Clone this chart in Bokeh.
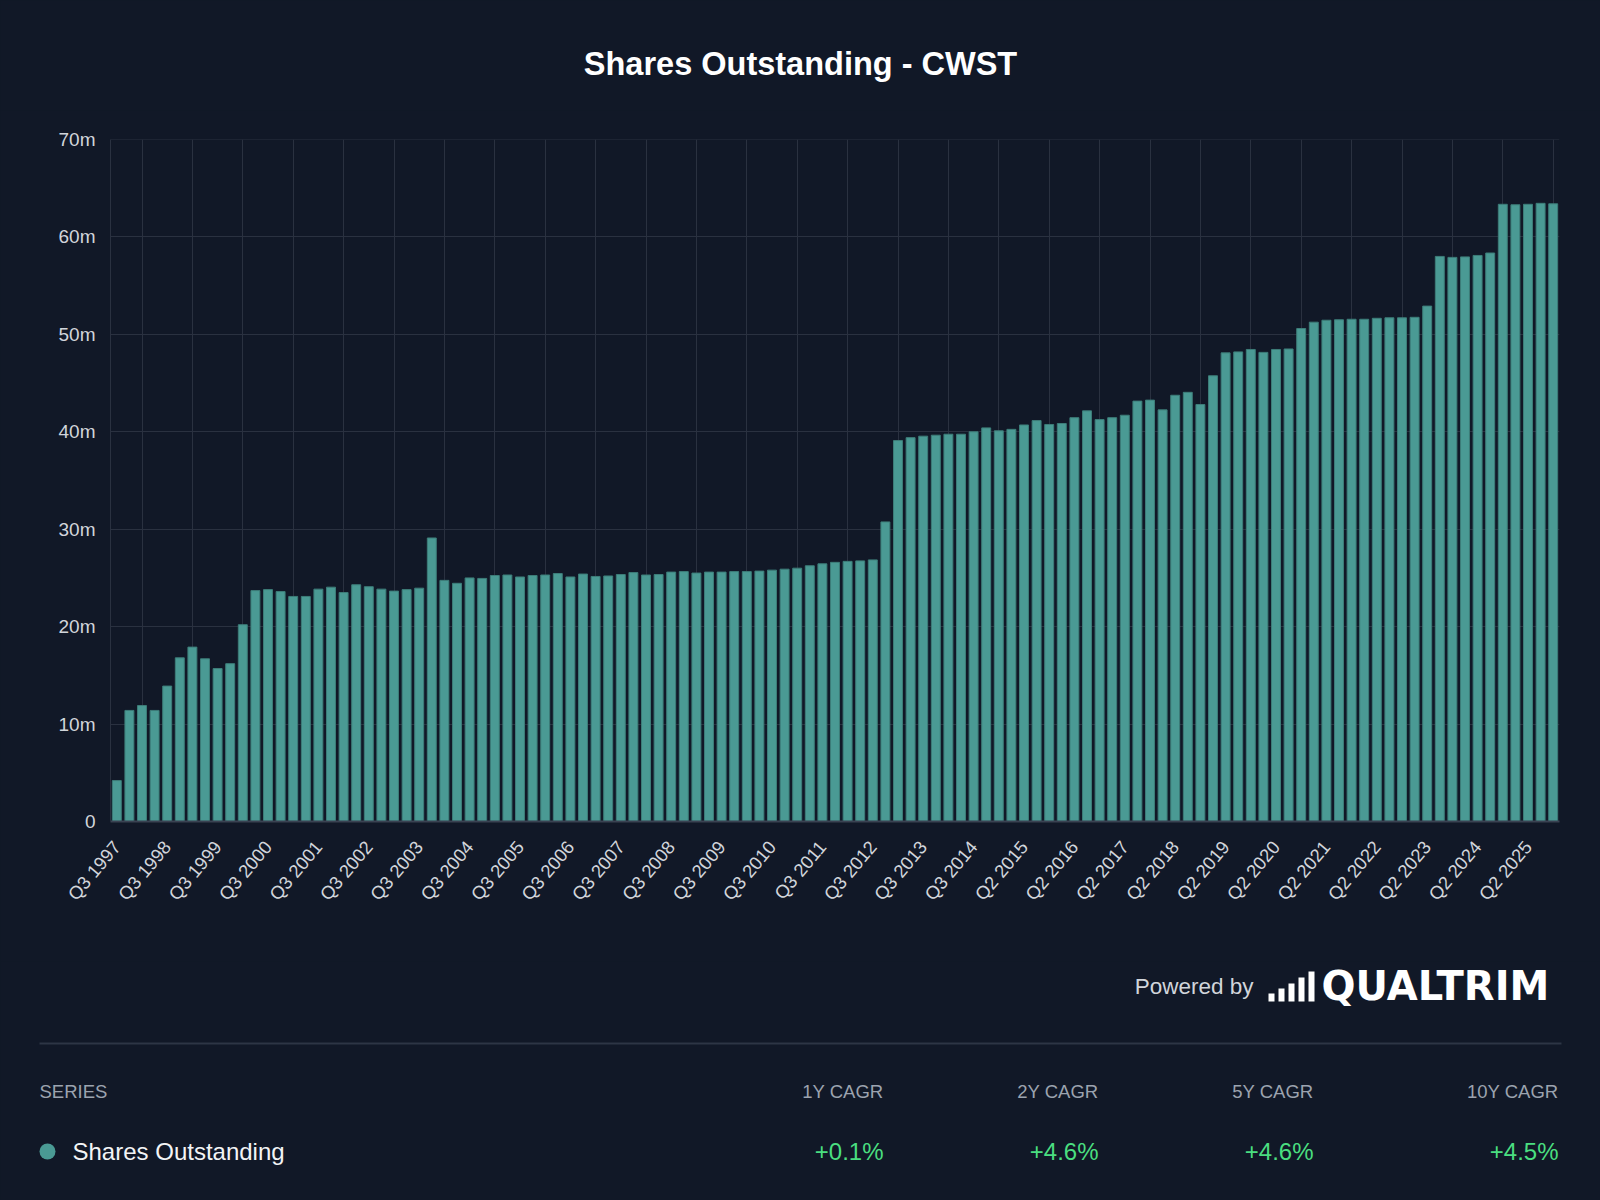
import math

from bokeh.core.properties import value
from bokeh.embed import file_html
from bokeh.layouts import column
from bokeh.models import ColumnDataSource, FixedTicker, Range1d, Span
from bokeh.plotting import figure
from bokeh.resources import INLINE

# ---- data -------------------------------------------------------------
title_text = "Shares Outstanding - CWST"
series_name = "Shares Outstanding"

# quarterly shares outstanding, in millions (oldest first)
shares_m = [
    4.2, 11.4, 11.9, 11.4, 13.9, 16.8, 17.9, 16.7, 15.7, 16.2,
    20.2, 23.7, 23.8, 23.6, 23.1, 23.1, 23.85, 24.05, 23.5, 24.3,
    24.1, 23.85, 23.65, 23.8, 23.95, 29.1, 24.75, 24.45, 25.0, 24.95,
    25.25, 25.3, 25.1, 25.25, 25.3, 25.45, 25.1, 25.4, 25.15, 25.2,
    25.35, 25.55, 25.3, 25.35, 25.6, 25.65, 25.5, 25.6, 25.6, 25.65,
    25.65, 25.7, 25.8, 25.9, 26.0, 26.25, 26.45, 26.6, 26.7, 26.75,
    26.85, 30.75, 39.1, 39.4, 39.55, 39.65, 39.75, 39.75, 40.0, 40.4,
    40.1, 40.25, 40.7, 41.15, 40.75, 40.85, 41.45, 42.15, 41.25, 41.45,
    41.7, 43.15, 43.25, 42.25, 43.75, 44.05, 42.8, 45.75, 48.1, 48.2,
    48.45, 48.15, 48.45, 48.5, 50.6, 51.25, 51.45, 51.5, 51.55, 51.55,
    51.65, 51.7, 51.7, 51.75, 52.9, 58.0, 57.9, 57.95, 58.1, 58.35,
    63.35, 63.3, 63.35, 63.45, 63.4,
]

# labels shown every fourth bar
tick_labels = [
    "Q3 1997", "Q3 1998", "Q3 1999", "Q3 2000", "Q3 2001", "Q3 2002",
    "Q3 2003", "Q3 2004", "Q3 2005", "Q3 2006", "Q3 2007", "Q3 2008",
    "Q3 2009", "Q3 2010", "Q3 2011", "Q3 2012", "Q3 2013", "Q3 2014",
    "Q2 2015", "Q2 2016", "Q2 2017", "Q2 2018", "Q2 2019", "Q2 2020",
    "Q2 2021", "Q2 2022", "Q2 2023", "Q2 2024", "Q2 2025",
]

y_ticks = [0, 10, 20, 30, 40, 50, 60, 70]
y_tick_labels = ["0", "10m", "20m", "30m", "40m", "50m", "60m", "70m"]

cagr_headers = ["1Y CAGR", "2Y CAGR", "5Y CAGR", "10Y CAGR"]
cagr_values = ["+0.1%", "+4.6%", "+4.6%", "+4.5%"]

# ---- style -------------------------------------------------------------
BG = "#111827"
GRID = "#2a3140"
AXIS = "#3a4252"
BAR_FILL = "#4a9a94"
BAR_LINE = "#3d7d79"
TICK_TEXT = "#d1d5db"
FONT = "Liberation Sans"


def blank_figure(height, y_top, y_bottom):
    f = figure(
        width=1600, height=height,
        x_range=Range1d(0, 1600), y_range=Range1d(y_bottom, y_top),
        x_axis_location=None, y_axis_location=None,
        output_backend="svg", toolbar_location=None,
        background_fill_color=BG, border_fill_color=BG,
        outline_line_color=None,
        min_border_left=0, min_border_right=0,
        min_border_top=0, min_border_bottom=0,
        frame_align=False,
    )
    f.grid.visible = False
    return f


# ---- header: title ------------------------------------------------------
header = blank_figure(110, 0, 110)
header.text(
    x=[800], y=[63], text=[title_text],
    text_align="center", text_baseline="middle",
    text_font=value(FONT), text_font_style="bold",
    text_font_size="32.5px", text_color="#ffffff",
)

# ---- main bar chart -------------------------------------------------------
n = len(shares_m)
src = ColumnDataSource(dict(x=list(range(n)), top=shares_m))

p = figure(
    width=1600, height=851,
    x_range=Range1d(-0.5, n - 0.5), y_range=Range1d(0, 70),
    output_backend="svg", toolbar_location=None,
    background_fill_color=BG, border_fill_color=BG,
    outline_line_color=None,
    min_border_left=110, min_border_right=41,
    min_border_top=29, min_border_bottom=140,
    frame_align=False,
)
p.vbar(
    x="x", top="top", bottom=0, width=0.71, source=src,
    fill_color=BAR_FILL, line_color=BAR_LINE, line_width=1,
)

label_ticks = list(range(0, 4 * len(tick_labels), 4))
p.xaxis.ticker = FixedTicker(ticks=label_ticks)
p.xaxis.major_label_overrides = dict(zip(label_ticks, tick_labels))
p.xaxis.major_label_orientation = math.radians(50)
p.xaxis.major_label_standoff = 16
p.xaxis.axis_line_color = AXIS
p.xaxis.axis_line_width = 2

p.yaxis.ticker = FixedTicker(ticks=y_ticks)
p.yaxis.major_label_overrides = dict(zip(y_ticks, y_tick_labels))
p.yaxis.major_label_standoff = 9
p.yaxis.axis_line_color = GRID

for ax in (p.xaxis, p.yaxis):
    ax.major_tick_line_color = None
    ax.minor_tick_line_color = None
    ax.major_label_text_font = FONT
    ax.major_label_text_color = TICK_TEXT
p.xaxis.major_label_text_font_size = "18.4px"
p.yaxis.major_label_text_font_size = "19px"

p.xgrid.ticker = FixedTicker(ticks=list(range(2, n, 4)))
p.xgrid.grid_line_color = GRID
p.ygrid.grid_line_color = GRID
# top edge of the value grid
p.add_layout(Span(location=y_ticks[-1], dimension="width",
                  line_color=GRID, line_width=1))

# ---- footer: branding and CAGR table ----------------------------------------
footer = blank_figure(239, 961, 1200)

footer.text(
    x=[1253], y=[986], text=["Powered by"],
    text_align="right", text_baseline="middle",
    text_font=value(FONT), text_font_size="22.5px", text_color=TICK_TEXT,
)
# logo mark: five rising bars
footer.quad(
    left=[1268, 1278, 1288, 1298, 1308],
    right=[1274, 1284, 1294, 1304, 1314],
    top=[993, 988, 983, 977, 971],
    bottom=[1001, 1001, 1001, 1001, 1001],
    fill_color="#ffffff", line_color=None,
)
footer.text(
    x=[1321], y=[985], text=["QUALTRIM"],
    text_align="left", text_baseline="middle",
    text_font=value("DejaVu Sans"), text_font_style="bold",
    text_font_size="40px", text_color="#ffffff",
)

footer.segment(x0=[39], y0=[1043], x1=[1561], y1=[1043],
               line_color="#2d3545", line_width=2)

col_x = [883, 1098, 1313, 1558]
footer.text(
    x=[39], y=[1091], text=["SERIES"],
    text_align="left", text_baseline="middle",
    text_font=value(FONT), text_font_size="18.5px", text_color="#9ca3af",
)
footer.text(
    x=col_x, y=[1091] * 4, text=cagr_headers,
    text_align="right", text_baseline="middle",
    text_font=value(FONT), text_font_size="18.5px", text_color="#9ca3af",
)

footer.scatter(x=[47], y=[1151], size=16, marker="circle",
               fill_color=BAR_FILL, line_color=None)
footer.text(
    x=[72], y=[1151], text=[series_name],
    text_align="left", text_baseline="middle",
    text_font=value(FONT), text_font_size="24px", text_color="#f3f4f6",
)
footer.text(
    x=col_x, y=[1151] * 4, text=cagr_values,
    text_align="right", text_baseline="middle",
    text_font=value(FONT), text_font_size="24px", text_color="#4ade80",
)

layout = column(header, p, footer, spacing=0)
layout.styles = {"background-color": BG}
open("out.html", "w").write(file_html(layout, INLINE))
